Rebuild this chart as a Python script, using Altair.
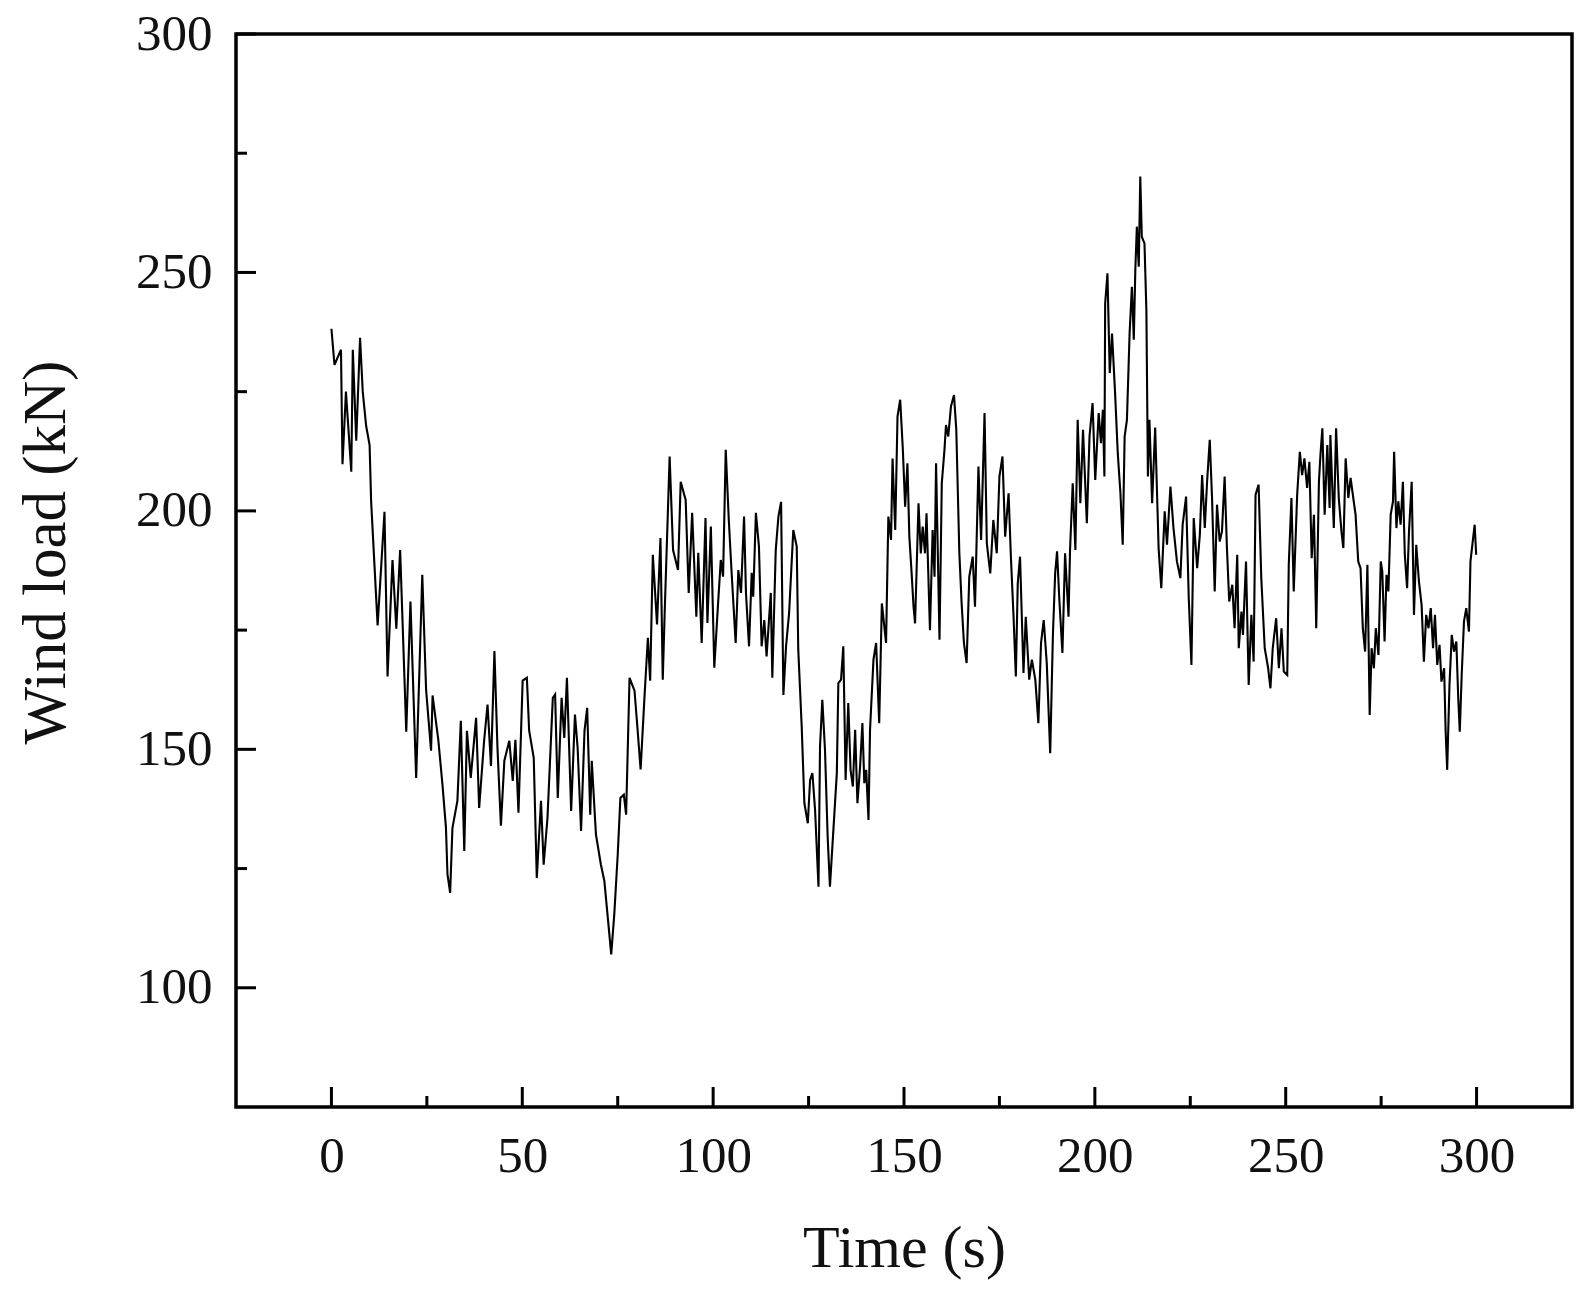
import altair as alt
import pandas as pd

# Time (s) and wind load (kN)
time_s = [
    0.0, 0.8, 2.5, 2.9, 3.8, 5.2, 5.6, 6.5, 7.5, 8.2, 9.1, 10.0, 10.4, 12.1, 13.9, 14.7,
    16.0, 17.0, 18.0, 19.6, 20.7, 22.2, 23.8, 24.8, 26.1, 26.5, 28.0, 29.1, 30.0, 30.4,
    31.1, 31.7, 33.0, 33.9, 34.8, 35.5, 36.5, 37.9, 38.7, 40.0, 40.9, 41.8, 42.7, 43.5,
    44.4, 45.3, 46.6, 47.5, 48.2, 49.0, 50.1, 51.2, 51.8, 53.0, 53.8, 54.9, 55.6, 56.6,
    58.0, 58.6, 59.3, 60.3, 61.0, 61.7, 62.8, 63.8, 64.5, 65.4, 66.3, 67.0, 67.8, 68.2,
    69.3, 70.6, 71.5, 72.4, 73.3, 74.1, 75.0, 75.7, 76.6, 77.2, 78.1, 79.4, 80.1, 81.0,
    82.0, 82.9, 83.5, 84.2, 85.3, 86.2, 86.8, 87.3, 88.6, 89.5, 90.8, 91.5, 92.8, 93.6,
    94.5, 95.6, 96.1, 97.0, 98.0, 98.5, 99.4, 100.3, 101.3, 102.0, 102.6, 103.3, 104.1,
    104.8, 105.9, 106.6, 107.3, 108.1, 108.6, 109.4, 110.1, 110.5, 111.2, 112.0, 112.7,
    113.4, 114.0, 115.1, 115.5, 116.4, 117.1, 117.8, 118.4, 119.1, 119.9, 121.0, 121.9,
    122.3, 123.2, 123.9, 124.8, 125.4, 126.0, 126.7, 127.6, 128.0, 128.6, 129.3, 130.0,
    130.6, 131.5, 132.4, 132.8, 133.5, 134.1, 134.7, 135.4, 136.0, 136.6, 137.2, 137.8,
    138.5, 139.1, 139.6, 140.1, 140.7, 141.1, 142.0, 142.7, 143.5, 144.2, 145.3, 145.9,
    146.6, 147.0, 147.7, 148.3, 149.0, 149.7, 150.3, 150.9, 151.4, 152.0, 152.5, 152.9,
    153.8, 154.4, 154.9, 155.5, 155.9, 156.8, 157.5, 158.0, 158.4, 159.3, 159.9, 160.6,
    161.0, 161.6, 162.3, 163.1, 163.7, 164.5, 165.1, 165.7, 166.4, 167.1, 168.0, 168.6,
    169.5, 170.2, 171.1, 171.7, 172.6, 173.4, 174.3, 175.0, 175.8, 176.5, 177.4, 178.0,
    178.7, 179.3, 179.8, 180.4, 181.3, 181.9, 182.8, 183.5, 184.4, 185.2, 185.9, 186.6,
    187.4, 188.3, 189.0, 189.6, 190.1, 190.7, 191.5, 192.2, 193.1, 193.5, 194.2, 194.9,
    195.5, 196.2, 196.9, 197.9, 198.6, 199.4, 200.1, 201.0, 201.6, 202.1, 202.5, 202.7,
    203.3, 203.9, 204.5, 205.3, 206.0, 206.7, 207.3, 207.8, 208.4, 209.1, 209.7, 210.2,
    210.6, 211.0, 211.5, 211.9, 212.3, 213.0, 213.5, 213.9, 214.3, 215.0, 215.8, 216.7,
    217.4, 218.3, 218.9, 219.8, 220.6, 221.5, 222.4, 223.0, 223.9, 224.6, 225.3, 225.9,
    226.8, 227.5, 228.1, 228.8, 229.4, 230.1, 230.7, 231.4, 232.0, 232.7, 233.3, 234.0,
    234.6, 235.2, 236.0, 236.6, 237.3, 237.7, 238.4, 238.8, 239.6, 240.3, 241.0, 241.6,
    242.1, 242.9, 243.6, 244.5, 245.4, 246.0, 246.6, 247.5, 248.2, 248.9, 249.5, 250.4,
    250.8, 251.5, 252.1, 253.0, 253.7, 254.3, 254.9, 255.6, 256.2, 256.8, 257.4, 258.0,
    258.7, 259.1, 259.6, 260.2, 260.9, 261.5, 261.7, 262.6, 263.2, 263.9, 264.6, 265.1,
    265.7, 266.4, 267.0, 267.7, 268.3, 269.0, 269.6, 270.2, 270.8, 271.4, 272.0, 272.5,
    273.1, 273.6, 274.3, 274.9, 275.3, 275.9, 276.4, 276.9, 277.5, 278.1, 278.4, 279.0,
    279.5, 280.1, 280.7, 281.2, 281.8, 282.3, 283.0, 283.6, 284.2, 284.9, 285.6, 286.2,
    286.8, 287.4, 288.0, 288.6, 289.1, 289.7, 290.3, 290.8, 291.5, 291.9, 292.3, 292.9,
    293.5, 294.1, 294.7, 295.2, 295.6, 296.1, 296.7, 297.3, 298.0, 298.4, 299.0, 299.5,
    299.9,
]

wind_kN = [
    238.2, 230.6, 233.8, 209.8, 225.0, 208.2, 233.8, 214.7, 236.3, 225.0, 217.8, 213.8, 202.0, 176.0, 199.8, 165.3,
    189.7, 175.3, 191.8, 153.7, 181.0, 144.0, 186.6, 162.5, 149.7, 161.3, 152.0, 142.5, 133.6, 123.8,
    119.9, 133.5, 139.2, 156.0, 128.7, 153.9, 144.0, 156.6, 137.7, 151.8, 159.4, 146.5, 170.6, 150.3,
    134.0, 147.6, 151.8, 143.4, 152.0, 136.7, 164.4, 165.0, 153.9, 148.2, 123.0, 139.2, 125.8, 135.6,
    160.8, 161.5, 139.8, 160.8, 152.4, 165.0, 137.1, 157.3, 150.3, 132.9, 153.9, 158.7, 136.3, 147.6,
    132.1, 125.8, 122.4, 114.7, 107.0, 115.4, 127.9, 139.8, 140.5, 136.3, 165.0, 162.3, 155.2, 145.8,
    160.8, 173.4, 164.4, 190.8, 176.2, 194.3, 164.6, 178.6, 211.4, 191.8, 187.6, 206.1, 202.3, 182.8,
    199.6, 177.8, 191.2, 172.3, 198.5, 176.5, 196.7, 167.1, 180.7, 189.7, 186.2, 212.8, 198.1,
    187.6, 172.3, 187.6, 182.8, 198.8, 182.8, 171.6, 187.0, 182.0, 199.6, 192.5, 171.6,
    177.1, 169.5, 182.8, 165.0, 191.8, 198.8, 201.9, 161.4, 171.6, 178.6, 196.0, 192.5,
    170.9, 154.8, 138.7, 134.5, 143.6, 145.0, 137.3, 121.2, 150.6, 160.4, 149.9, 131.7,
    121.2, 133.1, 145.0, 163.9, 164.6, 171.6, 143.6, 159.7, 145.7, 142.2, 154.1, 138.7,
    146.4, 155.5, 142.9, 145.7, 135.2, 154.1, 168.8, 172.3, 155.5, 180.6, 172.3, 198.8,
    193.9, 211.0, 196.0, 219.8, 223.3, 212.8, 200.9, 210.0, 194.6, 186.9, 179.9, 176.4,
    201.6, 191.1, 196.7, 191.1, 199.5, 175.0, 196.0, 186.2, 210.0, 173.0, 205.8, 212.8,
    218.0, 215.6, 221.9, 224.3, 217.0, 191.1, 180.6, 172.3, 168.1, 186.2, 190.4, 179.9,
    209.3, 193.9, 220.5, 193.2, 186.9, 198.1, 191.1, 207.2, 211.4, 194.6, 203.7, 190.4,
    177.8, 165.3, 184.8, 190.4, 166.0, 177.8, 164.6, 168.8, 164.6, 155.5, 172.3, 177.1,
    168.1, 149.2, 173.7, 186.9, 191.5, 181.3, 170.2, 191.1, 177.8, 191.8, 205.8, 191.8,
    219.1, 201.6, 217.0, 197.4, 215.6, 222.6, 206.5, 220.5, 214.2, 221.2, 207.2, 243.5,
    249.8, 228.9, 237.2, 224.7, 212.1, 203.7, 192.9, 215.6, 219.1, 237.2, 247.0, 235.9,
    250.5, 259.6, 251.2, 270.1, 257.5, 256.1, 242.1, 207.2, 219.1, 201.6, 217.5, 192.2,
    183.8, 199.9, 192.9, 205.1, 196.4, 189.4, 185.9, 197.1, 203.0, 181.7, 167.7, 198.5,
    188.0, 195.0, 207.5, 196.4, 206.1, 214.9, 202.7, 183.1, 201.3, 193.6, 195.7, 207.2,
    192.2, 181.0, 184.5, 175.4, 190.8, 171.2, 178.9, 174.0, 189.4, 163.5, 178.2, 168.4,
    203.4, 205.5, 185.9, 171.2, 167.0, 162.8, 171.2, 177.5, 167.0, 175.4, 166.3, 165.6,
    188.7, 202.7, 183.1, 203.4, 212.4, 207.5, 211.0, 204.8, 210.3, 190.1, 199.2, 175.4,
    206.1, 211.7, 217.3, 199.2, 213.8, 200.6, 215.9, 196.4, 217.3, 202.7, 195.7, 192.2,
    211.0, 202.7, 206.9, 202.7, 199.2, 189.4, 188.0, 175.4, 170.5, 188.7, 157.2, 171.2,
    167.0, 175.4, 169.8, 189.4, 187.3, 172.6, 186.6, 183.1, 199.2, 202.0, 212.4, 196.4,
    202.0, 197.1, 206.1, 190.8, 183.8, 195.7, 206.1, 178.2, 192.9, 185.2, 180.3, 168.4,
    178.2, 175.4, 179.6, 171.2, 178.2, 167.7, 171.9, 164.2, 167.0, 153.7, 145.7, 163.5,
    174.0, 170.5, 172.6, 160.7, 153.7, 165.6, 176.8, 179.6, 174.7, 189.4, 193.6, 197.1,
    190.8,
]

x_major = [0, 50, 100, 150, 200, 250, 300]
x_minor = [25, 75, 125, 175, 225, 275]
y_major = [100, 150, 200, 250, 300]
y_minor = [125, 175, 225, 275]

W, H = 1336, 1073
FONT = "Liberation Serif"

xs = alt.Scale(domain=[-25, 325], nice=False, zero=False)
ys = alt.Scale(domain=[75, 300], nice=False, zero=False)

x_axis = alt.Axis(title="Time (s)", values=x_major, format="d",
                  labelPadding=24, titlePadding=38, titleFontSize=60)
y_axis = alt.Axis(title="Wind load (kN)", values=y_major, format="d",
                  labelPadding=24, titlePadding=58, titleFontSize=61, titleY=518)

df = pd.DataFrame({"t": time_s, "v": wind_kN})

line = alt.Chart(df).mark_line(color="black", strokeWidth=2.1, clip=True).encode(
    x=alt.X("t:Q", scale=xs, axis=x_axis),
    y=alt.Y("v:Q", scale=ys, axis=y_axis),
)

xmaj = alt.Chart(pd.DataFrame({"t": x_major})).mark_rule(color="black", strokeWidth=3).encode(
    x=alt.X("t:Q", scale=xs, axis=x_axis), y=alt.value(H), y2=alt.value(H - 20))
xmin = alt.Chart(pd.DataFrame({"t": x_minor})).mark_rule(color="black", strokeWidth=3).encode(
    x=alt.X("t:Q", scale=xs, axis=x_axis), y=alt.value(H), y2=alt.value(H - 11))
ymaj = alt.Chart(pd.DataFrame({"v": y_major})).mark_rule(color="black", strokeWidth=3).encode(
    y=alt.Y("v:Q", scale=ys, axis=y_axis), x=alt.value(0), x2=alt.value(20))
ymin = alt.Chart(pd.DataFrame({"v": y_minor})).mark_rule(color="black", strokeWidth=3).encode(
    y=alt.Y("v:Q", scale=ys, axis=y_axis), x=alt.value(0), x2=alt.value(11))

chart = alt.layer(line, xmaj, xmin, ymaj, ymin).properties(
    width=W, height=H,
    autosize=alt.AutoSizeParams(type="none"),
    padding={"left": 228, "top": 26, "right": 13, "bottom": 180},
    background="white",
).configure_view(
    stroke="black", strokeWidth=3.5
).configure_axis(
    domain=False, ticks=False, grid=False,
    labelFont=FONT, labelFontSize=51, labelColor="#111111",
    titleFont=FONT, titleFontWeight="normal", titleColor="#111111",
)

chart.save("out.html", embed_options={"renderer": "svg", "actions": False})
